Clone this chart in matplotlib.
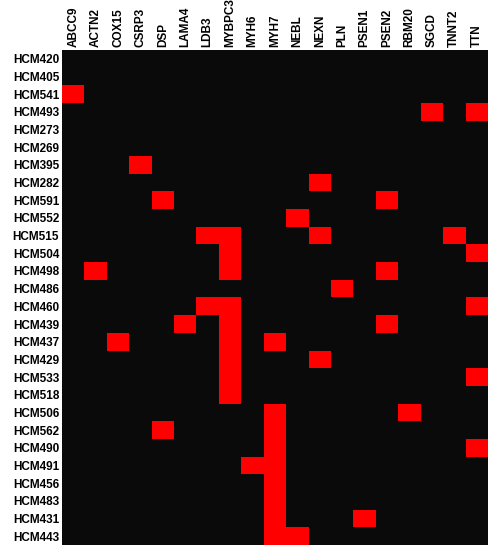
import numpy as np
import matplotlib.pyplot as plt
from matplotlib.colors import ListedColormap

plt.rcParams['font.family'] = ['Liberation Sans Narrow', 'Liberation Sans', 'DejaVu Sans']

genes = ["ABCC9", "ACTN2", "COX15", "CSRP3", "DSP", "LAMA4", "LDB3", "MYBPC3", "MYH6",
         "MYH7", "NEBL", "NEXN", "PLN", "PSEN1", "PSEN2", "RBM20", "SGCD", "TNNT2", "TTN"]
patients = ["HCM420", "HCM405", "HCM541", "HCM493", "HCM273", "HCM269", "HCM395", "HCM282",
            "HCM591", "HCM552", "HCM515", "HCM504", "HCM498", "HCM486", "HCM460", "HCM439",
            "HCM437", "HCM429", "HCM533", "HCM518", "HCM506", "HCM562", "HCM490", "HCM491",
            "HCM456", "HCM483", "HCM431", "HCM443"]
variants = {
    "HCM541": ["ABCC9"],
    "HCM493": ["SGCD", "TTN"],
    "HCM395": ["CSRP3"],
    "HCM282": ["NEXN"],
    "HCM591": ["DSP", "PSEN2"],
    "HCM552": ["NEBL"],
    "HCM515": ["LDB3", "MYBPC3", "NEXN", "TNNT2"],
    "HCM504": ["MYBPC3", "TTN"],
    "HCM498": ["ACTN2", "MYBPC3", "PSEN2"],
    "HCM486": ["PLN"],
    "HCM460": ["LDB3", "MYBPC3", "TTN"],
    "HCM439": ["LAMA4", "MYBPC3", "PSEN2"],
    "HCM437": ["COX15", "MYBPC3", "MYH7"],
    "HCM429": ["MYBPC3", "NEXN"],
    "HCM533": ["MYBPC3", "TTN"],
    "HCM518": ["MYBPC3"],
    "HCM506": ["MYH7", "RBM20"],
    "HCM562": ["DSP", "MYH7"],
    "HCM490": ["MYH7", "TTN"],
    "HCM491": ["MYH6", "MYH7"],
    "HCM456": ["MYH7"],
    "HCM483": ["MYH7"],
    "HCM431": ["MYH7", "PSEN1"],
    "HCM443": ["MYH7", "NEBL"],
}

mat = np.zeros((len(patients), len(genes)))
for p, gs in variants.items():
    for g in gs:
        mat[patients.index(p), genes.index(g)] = 1

fig = plt.figure(figsize=(4.93, 5.5), dpi=100)
ax = fig.add_axes([62/493, 5/550, 426/493, 495/550])
ax.imshow(mat, cmap=ListedColormap(["#0a0a0a", "#ff0000"]), aspect="auto",
          interpolation="nearest")
ax.set_xticks(range(len(genes)))
ax.set_xticklabels(genes, rotation=90, fontsize=8.5, fontweight="bold")
ax.set_yticks(range(len(patients)))
ax.set_yticklabels(patients, fontsize=8.5, fontweight="bold")
ax.xaxis.tick_top()
ax.tick_params(length=0, pad=2)
for s in ax.spines.values():
    s.set_visible(False)
fig.savefig("out.png", dpi=100)
